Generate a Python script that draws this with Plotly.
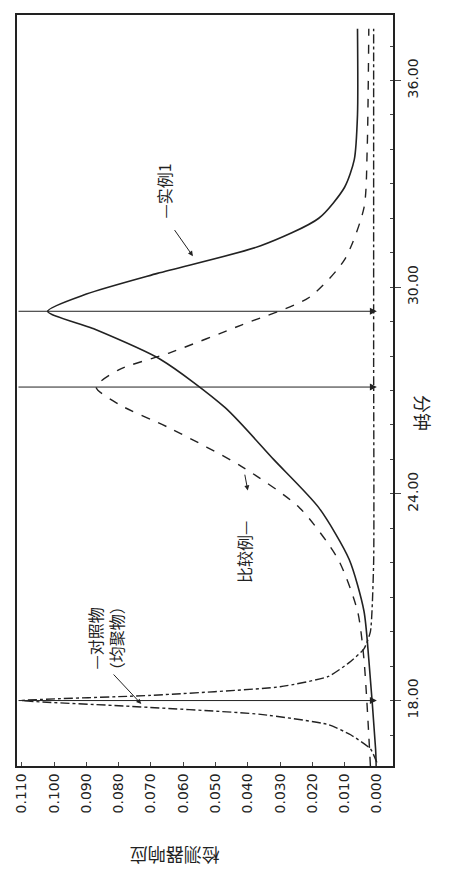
import plotly.graph_objects as go

# minutes, detector response
ex1_min = [16.1, 16.6, 19.2, 20.6, 22.1, 23.6, 25.0, 26.5, 27.9, 28.8, 29.3, 29.8, 30.4, 31.2, 32.0, 32.9, 33.7, 35.0, 37.5]
ex1_val = [0.0002, 0.0004, 0.0025, 0.004, 0.0086, 0.018, 0.032, 0.047, 0.067, 0.088, 0.102, 0.090, 0.068, 0.036, 0.018, 0.010, 0.007, 0.006, 0.006]

cmp_min = [16.1, 19.2, 20.6, 22.1, 23.6, 24.8, 25.9, 26.6, 27.1, 27.6, 28.1, 28.9, 29.7, 30.8, 32.3, 34.0, 37.5]
cmp_val = [0.002, 0.004, 0.006, 0.012, 0.024, 0.042, 0.064, 0.080, 0.087, 0.080, 0.064, 0.042, 0.021, 0.010, 0.004, 0.003, 0.0025]

ctl_min = [16.2, 16.6, 17.0, 17.3, 17.6, 17.85, 18.0, 18.15, 18.4, 18.7, 19.1, 19.5, 20.0, 22.0, 28.0, 37.5]
ctl_val = [0.0, 0.002, 0.008, 0.015, 0.036, 0.080, 0.110, 0.070, 0.030, 0.015, 0.0086, 0.004, 0.002, 0.001, 0.001, 0.001]

peak_min = [18.0, 27.1, 29.3]

y_ticks = [18, 24, 30, 36]
y_ticklabels = ["18.00", "24.00", "30.00", "36.00"]
x_ticks = [0.11, 0.10, 0.09, 0.08, 0.07, 0.06, 0.05, 0.04, 0.03, 0.02, 0.01, 0.0]
x_ticklabels = ["0.110", "0.100", "0.090", "0.080", "0.070", "0.060", "0.050", "0.040", "0.030", "0.020", "0.010", "0.000"]

fig = go.Figure()
fig.add_trace(go.Scatter(x=ex1_val, y=ex1_min, mode="lines", line=dict(color="#222", width=1.6, shape="spline", smoothing=0.7)))
fig.add_trace(go.Scatter(x=cmp_val, y=cmp_min, mode="lines", line=dict(color="#222", width=1.4, dash="dash", shape="spline", smoothing=0.7)))
fig.add_trace(go.Scatter(x=ctl_val, y=ctl_min, mode="lines", line=dict(color="#222", width=1.4, dash="dashdot", shape="spline", smoothing=0.5)))

for p in peak_min:
    fig.add_annotation(x=0.0, y=p, ax=0.1115, ay=p, xref="x", yref="y", axref="x", ayref="y",
                       showarrow=True, arrowhead=2, arrowsize=1.4, arrowwidth=1, arrowcolor="#222", text="")

font = dict(family="DejaVu Sans", size=14, color="#222")
cjk = dict(family="Noto Sans CJK SC", size=16, color="#222")
fig.add_annotation(x=0.066, y=32.8, xref="x", yref="y", text="—实例1", textangle=-90, showarrow=False, font=cjk)
fig.add_annotation(x=0.057, y=30.9, ax=0.063, ay=31.7, xref="x", yref="y", axref="x", ayref="y", text="", showarrow=True, arrowhead=2, arrowwidth=1, arrowcolor="#222")
fig.add_annotation(x=0.041, y=22.3, xref="x", yref="y", text="比较例—", textangle=-90, showarrow=False, font=cjk)
fig.add_annotation(x=0.040, y=24.1, ax=0.041, ay=24.6, xref="x", yref="y", axref="x", ayref="y", text="", showarrow=True, arrowhead=2, arrowwidth=1, arrowcolor="#222")
fig.add_annotation(x=0.084, y=19.8, xref="x", yref="y", text="—对照物<br>（均聚物）", textangle=-90, showarrow=False, font=cjk)
fig.add_annotation(x=0.073, y=17.9, ax=0.082, ay=18.8, xref="x", yref="y", axref="x", ayref="y", text="", showarrow=True, arrowhead=2, arrowwidth=1, arrowcolor="#222")

fig.add_annotation(x=0.42, y=-0.14, xref="paper", yref="paper", text="检测器响应", textangle=180, showarrow=False, font=dict(family="Noto Sans CJK SC", size=18, color="#222"))
fig.add_annotation(x=1.12, y=0.47, xref="paper", yref="paper", text="分钟", textangle=90, showarrow=False, font=dict(family="Noto Sans CJK SC", size=18, color="#222"))

fig.update_xaxes(range=[0.1115, -0.005], tickvals=x_ticks, ticktext=x_ticklabels, tickangle=-90,
                 showgrid=False, zeroline=False, showline=True, mirror=True, linecolor="#222", linewidth=1.5,
                 ticks="inside", ticklen=4, tickfont=font)
fig.update_yaxes(range=[16.1, 37.9], side="right", tickvals=y_ticks, ticktext=y_ticklabels, tickangle=-90,
                 showgrid=False, zeroline=False, showline=True, mirror=True, linecolor="#222", linewidth=1.5,
                 ticks="outside", ticklen=6, minor=dict(dtick=1, ticks="inside", ticklen=3), tickfont=font)
fig.update_layout(width=474, height=879, margin=dict(l=5, r=89, t=5, b=121), showlegend=False,
                  plot_bgcolor="white", paper_bgcolor="white")
fig.write_html("out.html")
